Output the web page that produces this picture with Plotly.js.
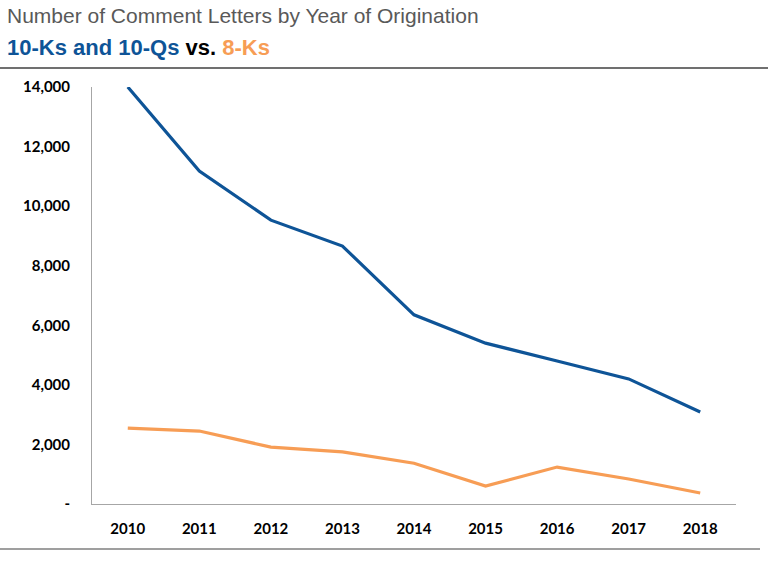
<!DOCTYPE html>
<html>
<head>
<meta charset="utf-8">
<script src="https://cdn.plot.ly/plotly-3.0.1.min.js"></script>
<style>
html,body{margin:0;padding:0;background:#fff;}
#chart{width:768px;height:562px;}
</style>
</head>
<body>
<div id="chart"></div>
<script>
var years = ['2010','2011','2012','2013','2014','2015','2016','2017','2018'];
var tenKQ = [14000, 11180, 9530, 8660, 6350, 5400, 4800, 4200, 3090];
var eightK = [2550, 2450, 1910, 1750, 1370, 600, 1240, 840, 370];
var yTickVals = [0, 2000, 4000, 6000, 8000, 10000, 12000, 14000];
var yTickText = ['-', '2,000', '4,000', '6,000', '8,000', '10,000', '12,000', '14,000'];

var L = 92, R = 32, T = 87, B = 58, W = 768, H = 562;
var pw = W - L - R, ph = H - T - B;
function px(x){ return (x - L) / pw; }
function py(y){ return (H - B - y) / ph; }

var narrow = '"Liberation Sans Narrow", "Arial Narrow", "Liberation Sans", Arial, sans-serif';
var tickFont = {family: 'Lato, Carlito, Calibri, "Liberation Sans", sans-serif', size: 15, color: '#000000', weight: 'bold'};

var traces = [
  {x: years, y: tenKQ, type: 'scatter', mode: 'lines', name: '10-Ks and 10-Qs',
   line: {color: '#0E5497', width: 3.2}},
  {x: years, y: eightK, type: 'scatter', mode: 'lines', name: '8-Ks',
   line: {color: '#F79D55', width: 3.2}}
];

var layout = {
  width: W, height: H,
  margin: {l: L, r: R, t: T, b: B},
  paper_bgcolor: '#ffffff', plot_bgcolor: '#ffffff',
  showlegend: false,
  xaxis: {
    type: 'category', range: [-0.5, 8.5],
    showline: true, linecolor: '#A6A6A6', linewidth: 1,
    showgrid: false, zeroline: false, ticks: '',
    tickfont: tickFont, ticklabelstandoff: 11
  },
  yaxis: {
    range: [0, 14000], tickvals: yTickVals, ticktext: yTickText,
    showline: true, linecolor: '#A6A6A6', linewidth: 1,
    showgrid: false, zeroline: false, ticks: '',
    tickfont: tickFont, ticklabelstandoff: 18
  },
  shapes: [
    {type: 'line', xref: 'paper', yref: 'paper', x0: px(0), x1: px(768), y0: py(68), y1: py(68),
     line: {color: '#404040', width: 1.3}},
    {type: 'line', xref: 'paper', yref: 'paper', x0: px(0), x1: px(760), y0: py(549), y1: py(549),
     line: {color: '#7F7F7F', width: 1.5}}
  ],
  annotations: [
    {xref: 'paper', yref: 'paper', x: px(5), y: py(16), xanchor: 'left', yanchor: 'middle',
     showarrow: false, text: 'Number of Comment Letters by Year of Origination',
     font: {family: narrow, size: 21, color: '#595959'}},
    {xref: 'paper', yref: 'paper', x: px(5), y: py(48), xanchor: 'left', yanchor: 'middle',
     showarrow: false,
     text: '<b><span style="color:#0E5497">10-Ks and 10-Qs</span> <span style="color:#000000">vs.</span> <span style="color:#F79D55">8-Ks</span></b>',
     font: {family: narrow, size: 22, color: '#0E5497'}}
  ]
};

Plotly.newPlot('chart', traces, layout, {displayModeBar: false, staticPlot: true});
</script>
</body>
</html>
